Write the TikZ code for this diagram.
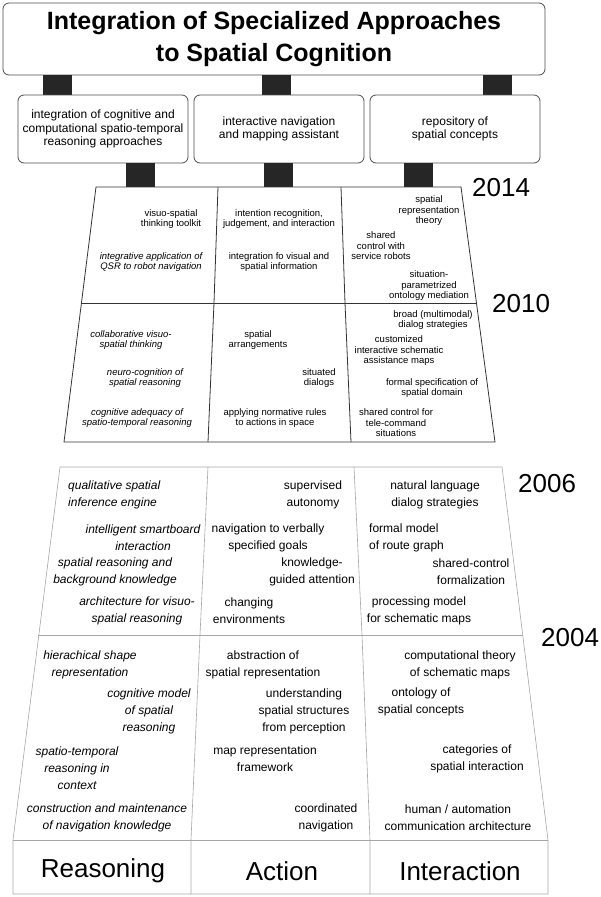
\documentclass[tikz,border=0pt]{standalone}
\usepackage{fontspec}
\setmainfont{Liberation Sans}
\begin{document}
\begin{tikzpicture}[x=1pt,y=-1pt,
  sm/.style={font=\fontsize{9.5}{10.5}\selectfont,align=center,inner sep=0pt},
  smi/.style={sm,font=\fontsize{9.5}{10.5}\selectfont\itshape},
  lg/.style={font=\fontsize{12}{17}\selectfont,align=center,inner sep=0pt},
  lgi/.style={lg,font=\fontsize{12}{17}\selectfont\itshape},
  yr/.style={font=\fontsize{26}{28}\selectfont,inner sep=0pt,anchor=west},
  cat/.style={font=\fontsize{26}{28}\selectfont,inner sep=0pt},
  box/.style={draw=black!70,rounded corners=6pt,line width=0.8pt},
  tab/.style={fill=black!85},
  gl/.style={draw=black!35,line width=0.6pt},
  bl/.style={draw=black!80,line width=0.8pt}]
\useasboundingbox (0,0) rectangle (600,897);
% top boxes
\node[box,minimum width=542,minimum height=72,font=\fontsize{25}{32}\selectfont\bfseries,align=center] (title) at (274,39) {Integration of Specialized Approaches\\to Spatial Cognition};
\fill[tab] (43,75) rectangle (72,95);
\fill[tab] (262,75) rectangle (291,95);
\fill[tab] (483,75) rectangle (512,95);
\node[box,minimum width=170,minimum height=68,font=\fontsize{12}{13.5}\selectfont,align=center] (b1) at (103,129) {integration of cognitive and\\computational spatio-temporal\\reasoning approaches};
\node[box,minimum width=170,minimum height=68,font=\fontsize{12}{13.5}\selectfont,align=center] (b2) at (279,129) {interactive navigation\\and mapping assistant};
\node[box,minimum width=170,minimum height=68,font=\fontsize{12}{13.5}\selectfont,align=center] (b3) at (455,129) {repository of\\spatial concepts};
\fill[tab] (126,163) rectangle (155,187);
\fill[tab] (264,163) rectangle (293,187);
\fill[tab] (404,163) rectangle (433,187);
% upper trapezoid
\draw[bl] (96,187) -- (461,187) -- (495,442) -- (64,442) -- cycle;
\draw[bl] (81,303) -- (476,303);
\draw[bl] (218,187) -- (214,303) -- (208,442);
\draw[bl] (341,187) -- (345,303) -- (351,442);
\node[yr] (y14) at (472,188) {2014};
\node[yr] (y10) at (492,304) {2010};
\node[sm] (u1) at (171,219) {visuo-spatial\\thinking toolkit};
\node[smi] (u2) at (151,262) {integrative application of\\QSR to robot navigation};
\node[sm] (u3) at (279,219) {intention recognition,\\judgement, and interaction};
\node[sm] (u4) at (279,262) {integration fo visual and\\spatial information};
\node[sm] (u5) at (429,211) {spatial\\representation\\theory};
\node[sm] (u6) at (381,246) {shared\\control with\\service robots};
\node[sm] (u7) at (429,286) {situation-\\parametrized\\ontology mediation};
\node[smi] (u8) at (131,340) {collaborative visuo-\\spatial thinking};
\node[smi] (u9) at (145,378) {neuro-cognition of\\spatial reasoning};
\node[smi] (u10) at (137,418) {cognitive adequacy of\\spatio-temporal reasoning};
\node[sm] (u11) at (258,340) {spatial\\arrangements};
\node[sm] (u12) at (319,378) {situated\\dialogs};
\node[sm] (u13) at (275,418) {applying normative rules\\to actions in space};
\node[sm] (u14) at (433,320) {broad (multimodal)\\dialog strategies};
\node[sm] (u15) at (399,351) {customized\\interactive schematic\\assistance maps};
\node[sm] (u16) at (432,388) {formal specification of\\spatial domain};
\node[sm] (u17) at (396,423) {shared control for\\tele-command\\situations};
% lower trapezoid
\draw[gl] (60,467) -- (502,467) -- (548,840) -- (548,894) -- (13,894) -- (13,840) -- cycle;
\draw[gl] (38,635) -- (523,635);
\draw[gl] (13,840) -- (548,840);
\draw[gl] (208,467) -- (200,635) -- (191,840) -- (191,894);
\draw[gl] (354,467) -- (362,635) -- (370,840) -- (370,894);
\node[yr] (y06) at (518,484) {2006};
\node[yr] (y04) at (541,638) {2004};
\node[lgi,anchor=west,align=left] (l1) at (68,495) {qualitative spatial\\inference engine};
\node[lgi] (l2) at (143,538) {intelligent smartboard\\interaction};
\node[lgi] (l3) at (115,572) {spatial reasoning and\\background knowledge};
\node[lgi] (l4) at (137,611) {architecture for visuo-\\spatial reasoning};
\node[lg] (l5) at (313,495) {supervised\\autonomy};
\node[lg] (l6) at (268,538) {navigation to verbally\\specified goals};
\node[lg] (l7) at (312,572) {knowledge-\\guided attention};
\node[lg] (l8) at (249,611) {changing\\environments};
\node[lg] (l9) at (435,495) {natural language\\dialog strategies};
\node[lg,anchor=west,align=left] (l10) at (369,538) {formal model\\of route graph};
\node[lg] (l11) at (471,572) {shared-control\\formalization};
\node[lg] (l12) at (419,611) {processing model\\for schematic maps};
\node[lgi] (l13) at (90,665) {hierachical shape\\representation};
\node[lgi] (l14) at (149,711) {cognitive model\\of spatial\\reasoning};
\node[lgi] (l15) at (77,768) {spatio-temporal\\reasoning in\\context};
\node[lgi] (l16) at (107,818) {construction and maintenance\\of navigation knowledge};
\node[lg] (l17) at (263,665) {abstraction of\\spatial representation};
\node[lg] (l18) at (304,711) {understanding\\spatial structures\\from perception};
\node[lg] (l19) at (265,759) {map representation\\framework};
\node[lg] (l20) at (326,818) {coordinated\\navigation};
\node[lg] (l21) at (460,665) {computational theory\\of schematic maps};
\node[lg] (l22) at (421,702) {ontology of\\spatial concepts};
\node[lg] (l23) at (477,759) {categories of\\spatial interaction};
\node[lg] (l24) at (458,818) {human / automation\\communication architecture};
\node[cat] (c1) at (103,871) {Reasoning};
\node[cat] (c2) at (282,871) {Action};
\node[cat] (c3) at (460,871) {Interaction};
\end{tikzpicture}
\end{document}
